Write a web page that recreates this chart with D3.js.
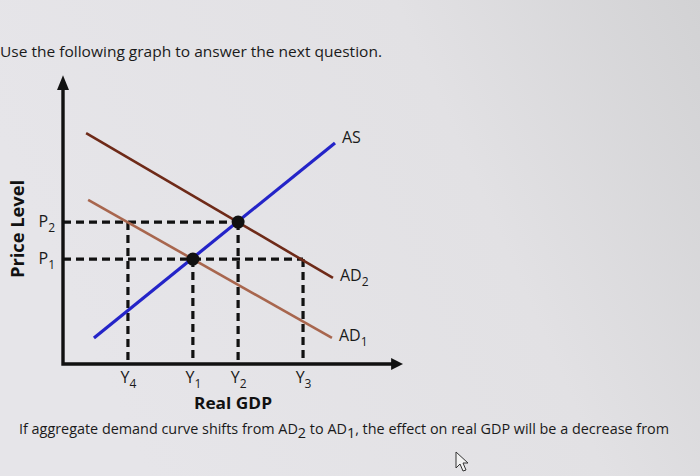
<!DOCTYPE html>
<html>
<head>
  <script type="text/javascript" src="https://cdn.jsdelivr.net/npm/d3@7"></script>
  <title>AD / AS</title>
  <style>
    body { margin: 0; background: #e4e3e7; }
    svg { display: block; }
  </style>
</head>
<body>

<svg width="700" height="476"></svg>

<script>
  // curves, in chart units (x: real GDP, y: price level)
  var curveNames = ["AS", "AD2", "AD1"];
  var curveColors = ["#2424c8", "#6e2a18", "#a8664e"];
  var curveFrom = [[0.91, 0.95], [0.68, 8.43], [0.74, 5.99]];
  var curveTo = [[8.0, 8.07], [7.94, 3.14], [7.91, 0.95]];

  var yTickNames = ["Y4", "Y1", "Y2", "Y3"];
  var yTickValues = [1.91, 3.82, 5.15, 7.06];
  // price level each Y is read from
  var yTickPrice = [5.18, 3.83, 5.18, 3.83];

  var pTickNames = ["P2", "P1"];
  var pTickValues = [5.18, 3.83];
  // how far each P dashed line goes
  var pTickReach = [5.15, 7.06];

  var eqX = [3.82, 5.15];
  var eqY = [3.83, 5.18];

  var font = "'Open Sans', Lato, sans-serif";

  var svg = d3.select("svg");

  var defs = svg.append("defs");
  var grad = defs.append("linearGradient").attr("id", "bg")
      .attr("x1", "0").attr("y1", "0.3").attr("x2", "1").attr("y2", "0");
  grad.append("stop").attr("offset", "0").attr("stop-color", "#e6e5e9");
  grad.append("stop").attr("offset", "0.6").attr("stop-color", "#e2e1e4");
  grad.append("stop").attr("offset", "1").attr("stop-color", "#d2d2d4");
  svg.append("rect").attr("width", 700).attr("height", 476).attr("fill", "url(#bg)");

  var x = d3.scaleLinear().domain([0, 10]).range([63, 403]);
  var y = d3.scaleLinear().domain([0, 10]).range([364, 90]);

  // question text
  svg.append("text")
      .attr("x", 0).attr("y", 57)
      .attr("font-family", font).attr("font-size", 15)
      .attr("textLength", 382).attr("lengthAdjust", "spacingAndGlyphs")
      .attr("fill", "#1a1a1a")
      .text("Use the following graph to answer the next question.");

  // dashed guides
  var dash = svg.append("g")
      .attr("stroke", "#111").attr("stroke-width", 3.2)
      .attr("stroke-dasharray", "8,5");
  pTickValues.forEach(function(v, i) {
    dash.append("line")
        .attr("x1", x(0)).attr("x2", x(pTickReach[i]))
        .attr("y1", y(v)).attr("y2", y(v));
  });
  yTickValues.forEach(function(v, i) {
    dash.append("line")
        .attr("x1", x(v)).attr("x2", x(v))
        .attr("y1", y(yTickPrice[i])).attr("y2", y(0));
  });

  // curves
  curveNames.forEach(function(name, i) {
    svg.append("line")
        .attr("x1", x(curveFrom[i][0])).attr("y1", y(curveFrom[i][1]))
        .attr("x2", x(curveTo[i][0])).attr("y2", y(curveTo[i][1]))
        .attr("stroke", curveColors[i])
        .attr("stroke-width", name == "AS" ? 3.2 : 2.6);
  });

  // equilibrium dots
  eqX.forEach(function(v, i) {
    svg.append("circle")
        .attr("cx", x(v)).attr("cy", y(eqY[i])).attr("r", 6.5)
        .attr("fill", "#111");
  });

  // label with a subscript: "AD2" -> AD + 2, "Y4" -> Y + 4
  function label(sel, name) {
    var m = name.match(/^(\D+)(\d*)$/);
    sel.append("tspan").text(m[1]);
    if (m[2]) sel.append("tspan").attr("font-size", "0.75em").attr("dy", 5).text(m[2]);
  }

  curveNames.forEach(function(name, i) {
    var t = svg.append("text")
        .attr("x", x(curveTo[i][0]) + 7)
        .attr("y", y(curveTo[i][1]) + (name == "AS" ? 0 : 3))
        .attr("font-family", font).attr("font-size", 16)
        .attr("fill", "#1a1a1a");
    label(t, name);
  });

  // axes
  var xAxis = d3.axisBottom(x).tickValues(yTickValues).tickSize(0).tickFormat("");
  var gx = svg.append("g").attr("transform", "translate(0," + y(0) + ")").call(xAxis);
  gx.select(".domain").remove();

  var yAxis = d3.axisLeft(y).tickValues(pTickValues).tickSize(0).tickFormat("");
  var gy = svg.append("g").attr("transform", "translate(" + x(0) + ",0)").call(yAxis);
  gy.select(".domain").remove();

  gx.selectAll(".tick").each(function(d, i) {
    var t = d3.select(this).append("text")
        .attr("y", 19).attr("fill", "#1a1a1a")
        .attr("font-family", font).attr("font-size", 16)
        .attr("text-anchor", "middle");
    label(t, yTickNames[i]);
  });
  gy.selectAll(".tick").each(function(d, i) {
    var t = d3.select(this).append("text")
        .attr("x", -8).attr("dy", 4).attr("fill", "#1a1a1a")
        .attr("font-family", font).attr("font-size", 16)
        .attr("text-anchor", "end");
    label(t, pTickNames[i]);
  });

  svg.append("path")
      .attr("d", d3.line()([[x(0), y(10)], [x(0), y(0)], [x(9.75), y(0)]]))
      .attr("fill", "none").attr("stroke", "#111").attr("stroke-width", 3.4);
  svg.append("path")
      .attr("d", d3.line()([[x(0) - 6, y(10)], [x(0), y(10.25) - 8], [x(0) + 6, y(10)]]) + "Z")
      .attr("fill", "#111");
  svg.append("path")
      .attr("d", d3.line()([[x(9.65), y(0) - 6], [x(10), y(0)], [x(9.65), y(0) + 6]]) + "Z")
      .attr("fill", "#111");

  // axis titles
  svg.append("text")
      .attr("x", 233).attr("y", 409)
      .attr("text-anchor", "middle")
      .attr("font-family", font).attr("font-size", 16).attr("font-weight", "bold")
      .attr("textLength", 78).attr("lengthAdjust", "spacingAndGlyphs")
      .attr("fill", "#111")
      .text("Real GDP");
  svg.append("text")
      .attr("transform", "translate(24,229) rotate(-90)")
      .attr("text-anchor", "middle")
      .attr("font-family", font).attr("font-size", 17).attr("font-weight", "bold")
      .attr("textLength", 98).attr("lengthAdjust", "spacingAndGlyphs")
      .attr("fill", "#111")
      .text("Price Level");

  // follow-up question
  var q = svg.append("text")
      .attr("x", 19).attr("y", 434)
      .attr("font-family", font).attr("font-size", 14)
      .attr("textLength", 650).attr("lengthAdjust", "spacingAndGlyphs")
      .attr("fill", "#1a1a1a");
  q.append("tspan").text("If aggregate demand curve shifts from AD");
  q.append("tspan").attr("dy", 4).text("2");
  q.append("tspan").attr("dy", -4).text(" to AD");
  q.append("tspan").attr("dy", 4).text("1");
  q.append("tspan").attr("dy", -4).text(", the effect on real GDP will be a decrease from");

  // mouse pointer
  svg.append("path")
      .attr("d", "M456,452 L456,468 L460,464 L463,471 L466,470 L463,463 L468,463 Z")
      .attr("fill", "#f2f2f2").attr("stroke", "#333").attr("stroke-width", 1);
</script>

</body>
</html>
